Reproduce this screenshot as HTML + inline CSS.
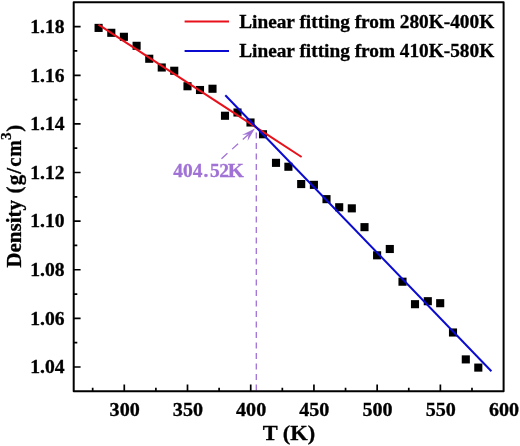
<!DOCTYPE html>
<html><head><meta charset="utf-8"><title>Density vs T</title>
<style>html,body{margin:0;padding:0;background:#fff}svg{display:block}text{font-family:"Liberation Serif",serif;font-weight:bold;stroke:#000;stroke-width:0.3px}</style></head><body>
<svg width="520" height="446" viewBox="0 0 520 446">
<rect width="520" height="446" fill="#fff"/>
<path d="M73.7,366.99h6.9 M73.7,342.68h3.6 M73.7,318.37h6.9 M73.7,294.06h3.6 M73.7,269.75h6.9 M73.7,245.44h3.6 M73.7,221.13h6.9 M73.7,196.82h3.6 M73.7,172.52h6.9 M73.7,148.21h3.6 M73.7,123.90h6.9 M73.7,99.59h3.6 M73.7,75.28h6.9 M73.7,50.97h3.6 M73.7,26.66h6.9 M92.67,391.3v-3.6 M124.28,391.3v-6.9 M155.89,391.3v-3.6 M187.50,391.3v-6.9 M219.11,391.3v-3.6 M250.72,391.3v-6.9 M282.33,391.3v-3.6 M313.94,391.3v-6.9 M345.55,391.3v-3.6 M377.16,391.3v-6.9 M408.77,391.3v-3.6 M440.38,391.3v-6.9 M471.99,391.3v-3.6" stroke="#000" stroke-width="1.7" fill="none"/>
<rect x="94.55" y="23.85" width="8.1" height="8.1" fill="#000"/>
<rect x="107.25" y="28.75" width="8.1" height="8.1" fill="#000"/>
<rect x="119.85" y="32.75" width="8.1" height="8.1" fill="#000"/>
<rect x="132.55" y="41.75" width="8.1" height="8.1" fill="#000"/>
<rect x="145.20" y="54.70" width="8.1" height="8.1" fill="#000"/>
<rect x="157.70" y="63.45" width="8.1" height="8.1" fill="#000"/>
<rect x="170.20" y="66.70" width="8.1" height="8.1" fill="#000"/>
<rect x="183.45" y="82.20" width="8.1" height="8.1" fill="#000"/>
<rect x="195.95" y="85.95" width="8.1" height="8.1" fill="#000"/>
<rect x="208.45" y="84.70" width="8.1" height="8.1" fill="#000"/>
<rect x="220.95" y="111.70" width="8.1" height="8.1" fill="#000"/>
<rect x="233.45" y="108.45" width="8.1" height="8.1" fill="#000"/>
<rect x="246.45" y="118.45" width="8.1" height="8.1" fill="#000"/>
<rect x="258.95" y="130.20" width="8.1" height="8.1" fill="#000"/>
<rect x="271.95" y="158.80" width="8.1" height="8.1" fill="#000"/>
<rect x="284.35" y="162.70" width="8.1" height="8.1" fill="#000"/>
<rect x="297.15" y="180.00" width="8.1" height="8.1" fill="#000"/>
<rect x="309.85" y="180.80" width="8.1" height="8.1" fill="#000"/>
<rect x="322.45" y="195.10" width="8.1" height="8.1" fill="#000"/>
<rect x="335.15" y="203.20" width="8.1" height="8.1" fill="#000"/>
<rect x="347.75" y="204.30" width="8.1" height="8.1" fill="#000"/>
<rect x="360.45" y="223.10" width="8.1" height="8.1" fill="#000"/>
<rect x="373.05" y="251.25" width="8.1" height="8.1" fill="#000"/>
<rect x="385.75" y="244.95" width="8.1" height="8.1" fill="#000"/>
<rect x="398.45" y="277.65" width="8.1" height="8.1" fill="#000"/>
<rect x="410.95" y="300.15" width="8.1" height="8.1" fill="#000"/>
<rect x="423.75" y="297.15" width="8.1" height="8.1" fill="#000"/>
<rect x="436.15" y="299.15" width="8.1" height="8.1" fill="#000"/>
<rect x="448.95" y="328.45" width="8.1" height="8.1" fill="#000"/>
<rect x="461.75" y="355.35" width="8.1" height="8.1" fill="#000"/>
<rect x="474.25" y="363.55" width="8.1" height="8.1" fill="#000"/>
<line x1="98.5" y1="24.6" x2="301.6" y2="157" stroke="#e8101a" stroke-width="2"/>
<line x1="225.3" y1="95.2" x2="491.4" y2="371.2" stroke="#0a0ad0" stroke-width="2"/>
<line x1="256.3" y1="132.4" x2="256.3" y2="391.3" stroke="#a172d6" stroke-width="1.3" stroke-dasharray="6 4.5"/>
<line x1="221.5" y1="158.7" x2="249.3" y2="133.7" stroke="#a172d6" stroke-width="1.3" stroke-dasharray="8 6.3"/>
<path d="M254.9,128.5 L242.0,134.9 L248.6,134.3 L247.6,141.0 Z" fill="#a172d6"/>
<text x="173.2 183 192.7 203.5 209.9 219.3 227.7" y="177.3" font-size="19.4" fill="#a172d6" style="stroke:#a172d6">404.52<tspan textLength="16.1" lengthAdjust="spacingAndGlyphs">K</tspan></text>
<rect x="73.7" y="2.35" width="429.90000000000003" height="388.95" fill="none" stroke="#000" stroke-width="2" stroke-linejoin="round"/>
<line x1="184.6" y1="21.5" x2="229" y2="21.5" stroke="#e8101a" stroke-width="2"/>
<line x1="184.6" y1="50.9" x2="229" y2="50.9" stroke="#0a0ad0" stroke-width="2"/>
<text x="239.2" y="27.7" font-size="18" textLength="255" lengthAdjust="spacingAndGlyphs">Linear fitting from 280K-400K</text>
<text x="239.2" y="57.2" font-size="18" textLength="255" lengthAdjust="spacingAndGlyphs">Linear fitting from 410K-580K</text>
<text x="64.6" y="373.29" font-size="18.5" text-anchor="end" textLength="34.3" lengthAdjust="spacingAndGlyphs">1.04</text>
<text x="64.6" y="324.67" font-size="18.5" text-anchor="end" textLength="34.3" lengthAdjust="spacingAndGlyphs">1.06</text>
<text x="64.6" y="276.05" font-size="18.5" text-anchor="end" textLength="34.3" lengthAdjust="spacingAndGlyphs">1.08</text>
<text x="64.6" y="227.43" font-size="18.5" text-anchor="end" textLength="34.3" lengthAdjust="spacingAndGlyphs">1.10</text>
<text x="64.6" y="178.82" font-size="18.5" text-anchor="end" textLength="34.3" lengthAdjust="spacingAndGlyphs">1.12</text>
<text x="64.6" y="130.20" font-size="18.5" text-anchor="end" textLength="34.3" lengthAdjust="spacingAndGlyphs">1.14</text>
<text x="64.6" y="81.58" font-size="18.5" text-anchor="end" textLength="34.3" lengthAdjust="spacingAndGlyphs">1.16</text>
<text x="64.6" y="32.96" font-size="18.5" text-anchor="end" textLength="34.3" lengthAdjust="spacingAndGlyphs">1.18</text>
<text x="124.68" y="415.9" font-size="18.5" text-anchor="middle" textLength="30.1" lengthAdjust="spacingAndGlyphs">300</text>
<text x="187.90" y="415.9" font-size="18.5" text-anchor="middle" textLength="30.1" lengthAdjust="spacingAndGlyphs">350</text>
<text x="251.12" y="415.9" font-size="18.5" text-anchor="middle" textLength="30.1" lengthAdjust="spacingAndGlyphs">400</text>
<text x="314.34" y="415.9" font-size="18.5" text-anchor="middle" textLength="30.1" lengthAdjust="spacingAndGlyphs">450</text>
<text x="377.56" y="415.9" font-size="18.5" text-anchor="middle" textLength="30.1" lengthAdjust="spacingAndGlyphs">500</text>
<text x="440.78" y="415.9" font-size="18.5" text-anchor="middle" textLength="30.1" lengthAdjust="spacingAndGlyphs">550</text>
<text x="504.00" y="415.9" font-size="18.5" text-anchor="middle" textLength="30.1" lengthAdjust="spacingAndGlyphs">600</text>
<text x="288.9" y="439.8" font-size="22" text-anchor="middle" textLength="52.5" lengthAdjust="spacingAndGlyphs">T (K)</text>
<text transform="translate(21.2,196.1) rotate(-90)" font-size="21"><tspan x="-71.75" textLength="68" lengthAdjust="spacingAndGlyphs">Density</tspan> <tspan x="2.6 10.9 22.4 29.4">(g/c</tspan><tspan x="39.4" textLength="16.6" lengthAdjust="spacingAndGlyphs">m</tspan><tspan x="56" dy="-9.8" font-size="14.5" textLength="7.6" lengthAdjust="spacingAndGlyphs">3</tspan><tspan x="64.4" dy="9.8">)</tspan></text>
</svg></body></html>
